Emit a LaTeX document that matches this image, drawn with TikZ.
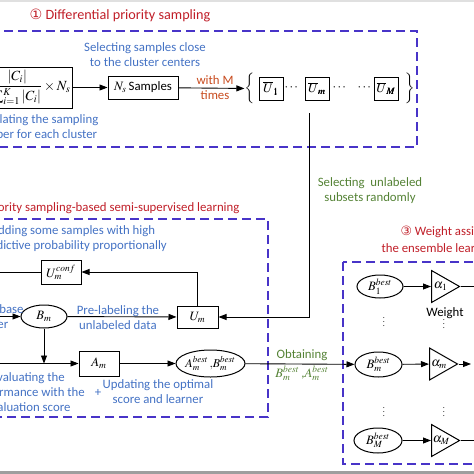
\documentclass[tikz,border=0pt]{standalone}
\usepackage{amsmath}
\usepackage{mathptmx}
\usepackage{bm}
\usepackage{fontspec}
\setmainfont{Carlito}
\newfontfamily\circfont{DejaVu Sans}
\usetikzlibrary{shapes.geometric,arrows.meta,positioning,calc}
\definecolor{txtblue}{RGB}{68,114,196}
\definecolor{ttlred}{RGB}{192,30,40}
\definecolor{orgred}{RGB}{200,75,30}
\definecolor{grn}{RGB}{84,130,53}
\definecolor{frameblue}{RGB}{72,52,200}

\begin{document}
\begin{tikzpicture}[
  x=1pt, y=-1pt,
  font=\fontsize{12.8}{15}\selectfont,
  box/.style={draw, line width=1pt, minimum height=23pt, inner sep=2pt},
  ubox/.style={box, minimum width=24pt, inner sep=1pt},
  ell/.style={draw, ellipse, line width=1pt, inner sep=0pt},
  amp/.style={draw, isosceles triangle, isosceles triangle stretches,
              line width=1pt, inner sep=0pt, minimum width=32pt, minimum height=28pt},
  arr/.style={-{Triangle[length=8pt,width=6pt]}, line width=0.9pt},
  ln/.style={line width=0.9pt},
  note/.style={align=center, text=txtblue},
  frame/.style={draw=frameblue, line width=1.2pt, dash pattern=on 9pt off 5pt}
]
\useasboundingbox (0,0) rectangle (474,474);
\clip (0,0) rectangle (474,474);
\fill[black!12] (0,0) rectangle (474,2);
\fill[black!38] (0,471) rectangle (474,474);

% (1) differential priority sampling
\node[text=ttlred, font=\fontsize{14.2}{16}\selectfont] (ttl1) at (120,15) {{\circfont ①} Differential priority sampling};
\draw[frame] (-10,31) -| (417,147) -- (-10,147);
\node[box, minimum height=41pt, anchor=east, font=\fontsize{14}{15}\selectfont] (ratio) at (73,87.5)
  {$\dfrac{|C_i|}{\sum_{i=1}^{K}|C_i|}\times N_s$};
\node[note] (calc) at (35,127) {Calculating the sampling\\number for each cluster};
\node[box, minimum width=70pt] (samp) at (143,87.5) {$N_s$\,Samples};
\node[note] (selc) at (145,55) {Selecting samples close\\to the cluster centers};
\node[align=center, text=orgred] (mt) at (215,87.5) {with M\\times};
\node[inner sep=0pt] (lbr) at (250,88.5) {$\left\{\rule[-11pt]{0pt}{22pt}\right.$};
\node[ubox] (u1) at (271,88.5) {$\bm{\overline{U}_1}$};
\node (d1) at (292,88) {$\cdots$};
\node[ubox] (um) at (317,88.5) {$\bm{\overline{U}_m}$};
\node (d2) at (340,88) {$\cdots$};
\node (d3) at (365,88) {$\cdots$};
\node[ubox] (uM) at (386,88.5) {$\bm{\overline{U}_M}$};
\node[inner sep=0pt] (rbr) at (409,88.5) {$\left.\rule[-11pt]{0pt}{22pt}\right\}$};
\draw[arr] (ratio) -- (samp);
\draw[arr] (samp) -- (lbr);
\coordinate (pick) at (309,113);
\node[align=center, text=grn] (rand) at (370,191) {Selecting\ \ unlabeled\\subsets randomly};

% (2) semi-supervised learning
\node[text=ttlred, anchor=east] (ttl2) at (243,208) {{\circfont ②} Priority sampling-based semi-supervised learning};
\draw[frame] (-10,219) -| (268,417) -- (-10,417);
\node[note] (add) at (73,239) {Adding some samples with high\\predictive probability proportionally};
\node[box, minimum width=40pt, minimum height=24pt] (uconf) at (61,272) {$U_m^{conf}$};
\node[box, minimum width=41pt, minimum height=22pt] (ul) at (197.5,317) {$U_m$};
\node[ell, minimum width=46pt, minimum height=23pt] (bm) at (44,316.5) {$B_m$};
\node[box, minimum width=40pt, minimum height=25pt] (am) at (99,363.5) {$A_m$};
\node[ell, minimum width=69pt, minimum height=27pt, inner sep=-3pt, font=\fontsize{12}{13}\selectfont] (best)
  at (210.5,363.5) {$A_m^{best}\,{,}B_m^{best}$};
\node[note] (train) at (-10.5,317) {Training base\\learner};
\node[note] (prel) at (118,318) {Pre-labeling the\\unlabeled data};
\node[note] (eval) at (28,392) {Evaluating the\\performance with the\\evaluation score};
\node[text=txtblue] (plus) at (98,393) {+};
\node[note] (upd) at (158,392) {Updating the optimal\\score and learner};
\coordinate (inb) at (-20,316.5);
\coordinate (ina) at (-20,363.5);
\coordinate (outc) at (-20,272);
\draw[arr] (inb) -- (bm);
\draw[arr] (bm) -- (ul);
\draw[arr] (pick) |- (ul);
\draw[arr] (ul.north) |- (uconf.east);
\draw[ln] (uconf) -- (outc);
\draw[arr] (bm) -- (bm |- am);
\draw[arr] (ina) -- (am);
\draw[arr] (am) -- (best);

% (3) weight assignment
\node[text=ttlred, anchor=west] (ttl3a) at (397,232) {{\circfont ③} Weight assignment for};
\node[text=ttlred, anchor=west] (ttl3b) at (378,248) {the ensemble learners};
\draw[frame] (343,262) rectangle (500,464);
\node[ell, minimum width=46pt, minimum height=23pt] (b1) at (380,286.5) {$B_1^{best}$};
\node[ell, minimum width=47pt, minimum height=25pt] (bmb) at (378.5,364.5) {$B_m^{best}$};
\node[ell, minimum width=48pt, minimum height=25pt] (bM) at (378,440.5) {$B_M^{best}$};
\node[amp, anchor=lower side] (w1) at (431,286.5) {$\alpha_1$};
\node[amp, anchor=lower side] (wm) at (429,364) {$\alpha_m$};
\node[amp, anchor=lower side] (wM) at (431,440.5) {$\alpha_M$};
\node (wt) at (445,313) {Weight};
\node[font=\footnotesize] (v1) at (384,319) {$\vdots$};
\node[font=\footnotesize] (v2) at (444,321) {$\vdots$};
\node[font=\footnotesize] (v3) at (384,409) {$\vdots$};
\node[font=\footnotesize] (v4) at (444,409) {$\vdots$};
\coordinate (o1) at (480,286.5);
\coordinate (om) at (471,364);
\coordinate (oM) at (480,440.5);
\draw[arr] (b1) -- (w1);
\draw[arr] (bmb) -- (wm);
\draw[arr] (bM) -- (wM);
\draw[ln] (w1.apex) -- (o1);
\draw[arr] (wm.apex) -- (om);
\draw[ln] (wM.apex) -- (oM);
\draw[arr] (best) -- (bmb);
\node[align=center, text=grn] (obt) at (302,365) {Obtaining\\[4pt]$B_m^{best}$\,,$A_m^{best}$};
\end{tikzpicture}
\end{document}
